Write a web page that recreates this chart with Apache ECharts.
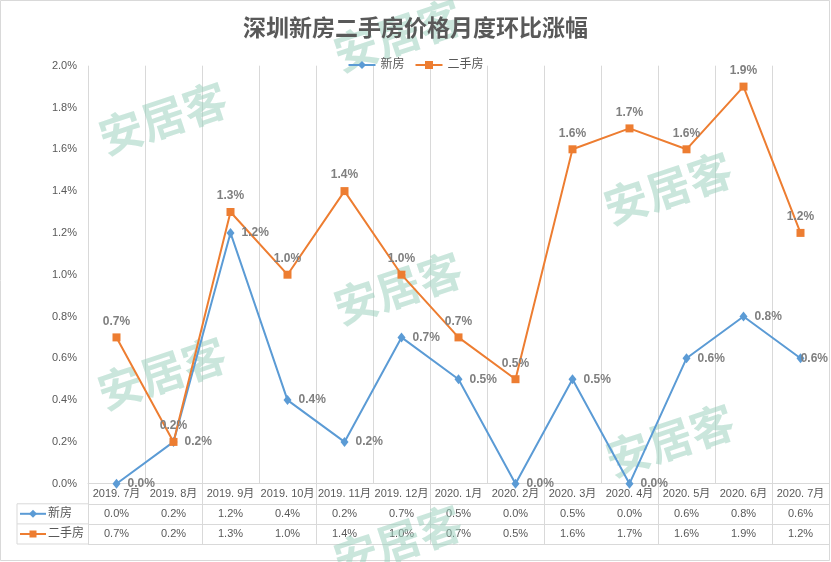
<!DOCTYPE html>
<html>
<head>
<meta charset="utf-8">
<script src="https://cdn.jsdelivr.net/npm/echarts@6/dist/echarts.min.js"></script>
<style>
  html, body { margin: 0; padding: 0; background: #fff; }
  #main { width: 831px; height: 562px; }
</style>
</head>
<body>
<div id="main"></div>
<script>
// 月份
var months = ['2019. 7月', '2019. 8月', '2019. 9月', '2019. 10月', '2019. 11月', '2019. 12月',
  '2020. 1月', '2020. 2月', '2020. 3月', '2020. 4月', '2020. 5月', '2020. 6月', '2020. 7月']
// 环比涨幅 (%)
var newHouse = [0.0, 0.2, 1.2, 0.4, 0.2, 0.7, 0.5, 0.0, 0.5, 0.0, 0.6, 0.8, 0.6]
var resale = [0.7, 0.2, 1.3, 1.0, 1.4, 1.0, 0.7, 0.5, 1.6, 1.7, 1.6, 1.9, 1.2]
var seriesNames = ['新房', '二手房']

var blue = '#5B9BD5'
var orange = '#ED7D31'
var gridColor = '#D9D9D9'
var textColor = '#595959'
var font = '"Liberation Sans", "Noto Sans CJK SC", sans-serif'

var pct = function (v) { return v.toFixed(1) + '%' }

// 水印
var marks = [[163, 118], [162, 373], [398, 35], [398, 288], [398, 541], [668, 188], [670, 440]]
var watermark = marks.map(function (p) {
  return {
    type: 'text', x: p[0], y: p[1], rotation: 0.32, z: 1, silent: true,
    style: {
      text: '安居客', fontSize: 44, fontWeight: 'bold', fontFamily: '"Noto Sans CJK SC"',
      fill: 'rgba(150, 205, 185, 0.5)', align: 'center', verticalAlign: 'middle'
    }
  }
})

// 表格左列
var rowY = [483.7, 503.8, 523.9, 544]
var tableLeft = [
  { type: 'line', shape: { x1: 17, y1: rowY[1], x2: 88, y2: rowY[1] }, style: { stroke: gridColor } },
  { type: 'line', shape: { x1: 17, y1: rowY[2], x2: 88, y2: rowY[2] }, style: { stroke: gridColor } },
  { type: 'line', shape: { x1: 17, y1: rowY[3], x2: 88, y2: rowY[3] }, style: { stroke: gridColor } },
  { type: 'line', shape: { x1: 17, y1: rowY[1], x2: 17, y2: rowY[3] }, style: { stroke: gridColor } },
  { type: 'line', shape: { x1: 20, y1: 513.8, x2: 46, y2: 513.8 }, style: { stroke: blue, lineWidth: 2 } },
  { type: 'polygon', shape: { points: [[33, 509.8], [37, 513.8], [33, 517.8], [29, 513.8]] }, style: { fill: blue } },
  { type: 'text', x: 48, y: 513.8, style: { text: seriesNames[0], fontSize: 12, fontFamily: font, fill: textColor, verticalAlign: 'middle' } },
  { type: 'line', shape: { x1: 20, y1: 534, x2: 46, y2: 534 }, style: { stroke: orange, lineWidth: 2 } },
  { type: 'rect', shape: { x: 29.5, y: 530.5, width: 7, height: 7 }, style: { fill: orange } },
  { type: 'text', x: 48, y: 534, style: { text: seriesNames[1], fontSize: 12, fontFamily: font, fill: textColor, verticalAlign: 'middle' } },
  { type: 'rect', shape: { x: 0.5, y: 0.5, width: 829, height: 560 }, style: { fill: 'none', stroke: gridColor } }
]

// 标签超出右边界时往左挪
var keepInside = function (params) {
  var r = params.labelRect
  if (r.x + r.width > 828) {
    return { x: 828 - r.width, y: r.y + r.height / 2, align: 'left', verticalAlign: 'middle' }
  }
}

var myChart = echarts.init(document.getElementById('main'))
myChart.setOption({
  backgroundColor: '#fff',
  animation: false,
  textStyle: { fontFamily: font },
  title: {
    text: '深圳新房二手房价格月度环比涨幅',
    left: 'center',
    top: 11,
    textStyle: { fontSize: 23, fontWeight: 'bold', color: textColor, fontFamily: '"Noto Sans CJK SC"' }
  },
  legend: {
    top: 54,
    left: 'center',
    itemWidth: 27,
    itemHeight: 10,
    itemGap: 10,
    textStyle: { fontSize: 12, color: textColor },
    data: seriesNames
  },
  grid: [
    { left: 88, right: 2, top: 65.7, height: 418 },
    { left: 88, right: 2, top: 483.7, height: 60.3 }
  ],
  xAxis: [
    {
      gridIndex: 0,
      type: 'category',
      data: months,
      boundaryGap: true,
      axisLine: { lineStyle: { color: gridColor } },
      axisTick: { show: false },
      splitLine: { show: true, lineStyle: { color: gridColor } },
      axisLabel: {
        interval: 0,
        margin: 0,
        fontSize: 11,
        color: textColor,
        lineHeight: 20.1,
        formatter: function (v, i) {
          return v + '\n' + pct(newHouse[i]) + '\n' + pct(resale[i])
        }
      }
    },
    {
      gridIndex: 1,
      type: 'category',
      data: months,
      boundaryGap: true,
      axisLine: { show: false },
      axisTick: { show: false },
      axisLabel: { show: false },
      splitLine: { show: true, lineStyle: { color: gridColor } }
    }
  ],
  yAxis: [
    {
      gridIndex: 0,
      type: 'value',
      min: 0,
      max: 2,
      interval: 0.2,
      axisLine: { show: false },
      axisTick: { show: false },
      splitLine: { show: false },
      axisLabel: { margin: 11, fontSize: 11, color: textColor, formatter: pct }
    },
    {
      gridIndex: 1,
      type: 'value',
      min: 0,
      max: 3,
      interval: 1,
      axisLine: { show: false },
      axisTick: { show: false },
      axisLabel: { show: false },
      splitLine: { show: true, lineStyle: { color: gridColor } }
    }
  ],
  graphic: watermark.concat(tableLeft),
  series: [
    {
      name: seriesNames[0],
      type: 'line',
      data: newHouse,
      color: blue,
      symbol: 'diamond',
      symbolSize: [8, 10],
      lineStyle: { width: 2 },
      labelLayout: keepInside,
      label: {
        show: true,
        position: 'right',
        distance: 7,
        fontSize: 12,
        fontWeight: 'bold',
        color: '#7f7f7f',
        formatter: function (p) { return pct(p.value) }
      }
    },
    {
      name: seriesNames[1],
      type: 'line',
      data: resale,
      color: orange,
      symbol: 'rect',
      symbolSize: 8,
      lineStyle: { width: 2 },
      labelLayout: keepInside,
      label: {
        show: true,
        position: 'top',
        distance: 6,
        fontSize: 12,
        fontWeight: 'bold',
        color: '#7f7f7f',
        formatter: function (p) { return pct(p.value) }
      }
    }
  ]
})
</script>
</body>
</html>
